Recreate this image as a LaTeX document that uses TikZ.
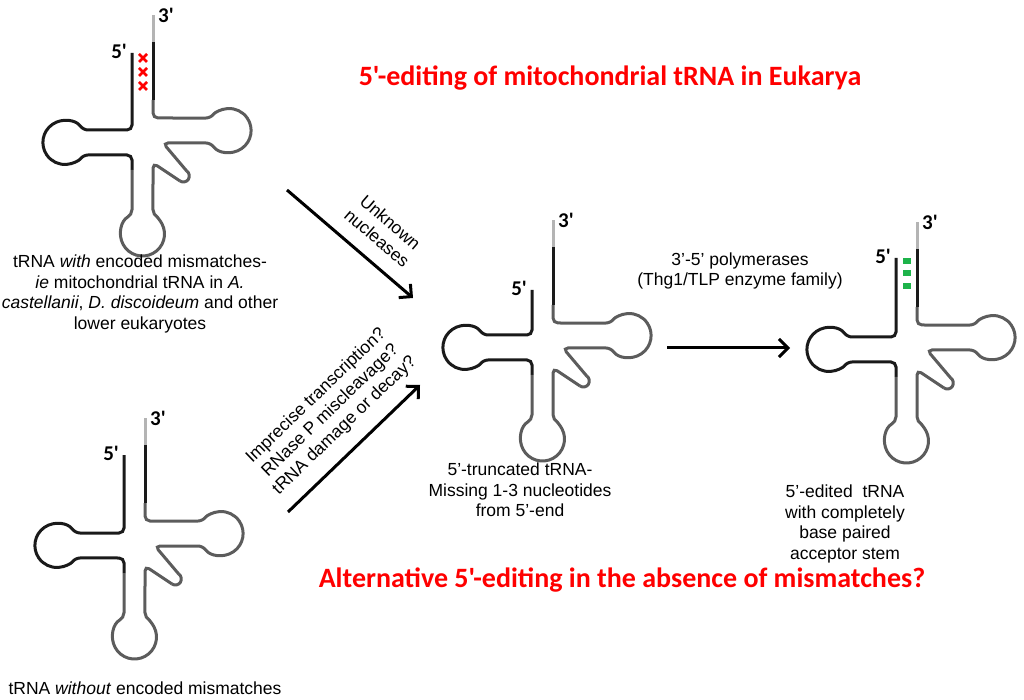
\documentclass[tikz,border=0pt]{standalone}
\usepackage{fontspec}
\setmainfont{Liberation Sans}
\newfontfamily\calib{Carlito}
\usetikzlibrary{arrows.meta}
\definecolor{strandblack}{HTML}{1A1A1A}
\definecolor{strandgrey}{HTML}{5C5C5C}
\definecolor{tailgrey}{HTML}{B4B4B4}
\definecolor{titlered}{HTML}{FF0000}
\definecolor{pairgreen}{HTML}{1DB34A}
\tikzset{
  strand/.style={line width=3pt, rounded corners=5pt},
  endlabel/.style={font=\calib\bfseries\fontsize{21}{21}\selectfont, inner sep=1pt},
  caption/.style={align=center, font=\fontsize{17.5}{20.5}\selectfont},
  bigarrow/.style={line width=3pt, -{Straight Barb[length=9pt,width=18pt,line width=3pt]}},
  title/.style={text=titlered, font=\calib\bfseries\fontsize{28}{28}\selectfont},
  pics/trna/.style={code={
    % 5' side, acceptor and D-arm
    \draw[strand, strandblack] (0,#1) -- (0,0) -- (-49,0)
        arc[start angle=34.6, end angle=325.4, radius=22] -- (0,-25) -- (0,-40);
    % anticodon, variable and T-arm
    \draw[strand, strandgrey] (0,-40) -- (0,-84.7)
        arc[start angle=118.5, end angle=421.5, radius=22] -- (21,-33) -- (48,-51);
    \draw[line width=3pt, strandgrey] (48,-51) arc[start angle=236.3, end angle=416.3, radius=6];
    \draw[strand, strandgrey] (54.7,-41) -- (31,-13) -- (79,-13)
        arc[start angle=214.6, end angle=505.4, radius=22] -- (21,12) -- (21,30);
    % 3' side
    \draw[strand, strandblack] (21,30) -- (21,88);
    \draw[line width=3pt, tailgrey] (21,88) -- (21,115);
    \node[endlabel, anchor=east] (-five) at (-4,#1+2) {5'};
    \node[endlabel, anchor=west] (-three) at (25,115) {3'};
  }}
}
\begin{document}
\begin{tikzpicture}[x=1pt, y=1pt]
\useasboundingbox (0,0) rectangle (1024,699);

\pic (wt) at (132,569) {trna=77};
\pic (nm) at (124,166) {trna=78};
\pic (cut) at (532,364) {trna=45};
\pic (ed) at (896,362) {trna=79};

% mismatches
\foreach \y in {641,627,613}
  \draw[red, line width=2.6pt] (139,\y-4) -- (147,\y+4) (139,\y+4) -- (147,\y-4);
% restored pairs
\foreach \y in {438,426,413}
  \fill[pairgreen] (903,\y-3) rectangle (911,\y+3);

\node[title] (top) at (610,621) {5'-editing of mitochondrial tRNA in Eukarya};
\node[title] (bottom) at (622,119) {Alternative 5'-editing in the absence of mismatches?};

\node[caption] (capwt) at (140,405) {tRNA \emph{with} encoded mismatches-\\
  \emph{ie} mitochondrial tRNA in \emph{A.}\\ \emph{castellanii}, \emph{D. discoideum} and other\\ lower eukaryotes};
\node[caption] (capnm) at (145,11) {tRNA \emph{without} encoded mismatches};
\node[caption] (capcut) at (520,209) {5'-truncated tRNA-\\Missing 1-3 nucleotides\\from 5'-end};
\node[caption] (caped) at (845,175) {5'-edited \ tRNA\\with completely\\base paired\\acceptor stem};

\coordinate (a1s) at (287,509);
\coordinate (a1e) at (413,401);
\coordinate (a2s) at (288,187);
\coordinate (a2e) at (420,314);
\coordinate (a3s) at (667,351);
\coordinate (a3e) at (790,351);

\draw[bigarrow] (a1s) -- node[caption, sloped, above=11pt, pos=0.6] {Unknown\\nucleases} (a1e);
\draw[bigarrow] (a2s) -- node[caption, sloped, above=10pt, pos=0.55] {Imprecise transcription?\\RNase P miscleavage?\\tRNA damage or decay?} (a2e);
\draw[bigarrow] (a3s) -- (a3e);
\node[caption] (poly) at (740,428) {3'-5' polymerases\\(Thg1/TLP enzyme family)};
\end{tikzpicture}
\end{document}
